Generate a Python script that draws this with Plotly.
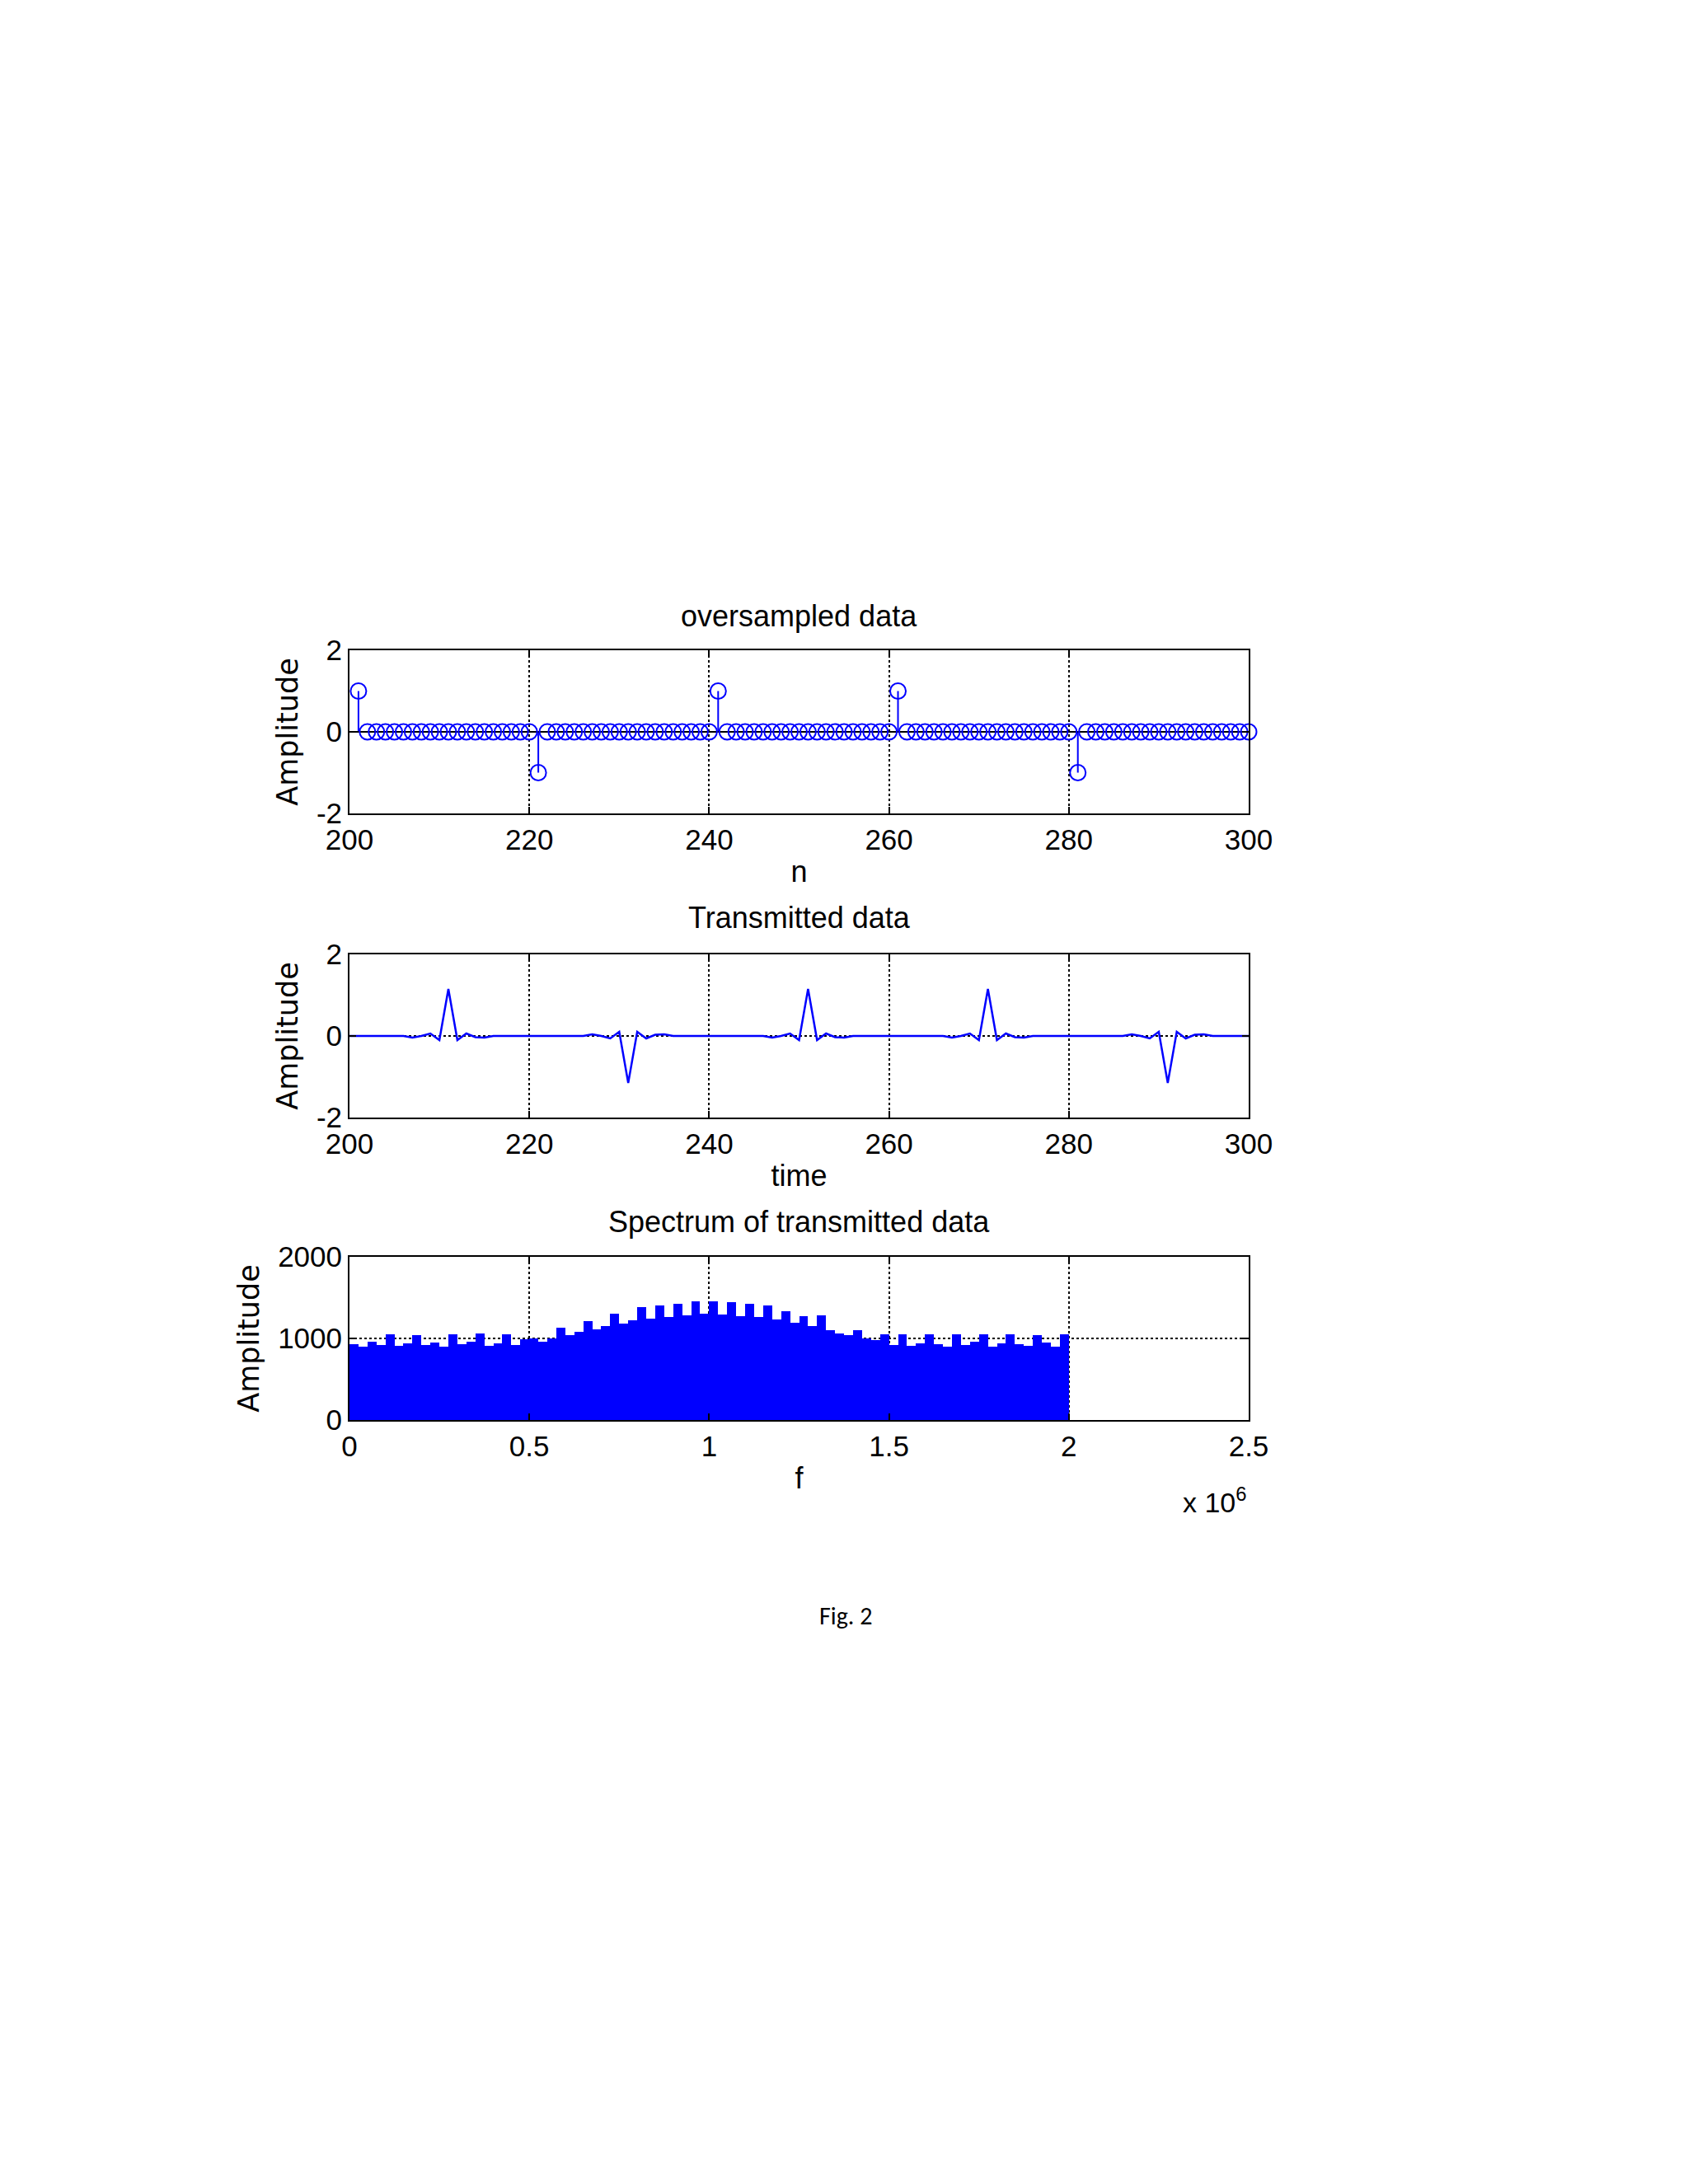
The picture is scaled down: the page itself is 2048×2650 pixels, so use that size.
import plotly.graph_objects as go

# oversampled data (stem), n = 201..300
n_vals = list(range(201, 301))
symbols = {201: 1, 221: -1, 241: 1, 261: 1, 281: -1}
over_vals = [symbols.get(n, 0) for n in n_vals]

# transmitted data, t = 200..300
t_vals = list(range(200, 301))
tx_vals = [0, 0, 0, 0, 0, 0, 0, -0.04, 0, 0.06,
           -0.1, 1.15, -0.1, 0.06, -0.03, -0.04, 0, 0, 0, 0,
           0, 0, 0, 0, 0, 0, 0, 0.04, 0, -0.06,
           0.1, -1.15, 0.1, -0.06, 0.03, 0.04, 0, 0, 0, 0,
           0, 0, 0, 0, 0, 0, 0, -0.04, 0, 0.06,
           -0.1, 1.15, -0.1, 0.06, -0.03, -0.04, 0, 0, 0, 0,
           0, 0, 0, 0, 0, 0, 0, -0.04, 0, 0.06,
           -0.1, 1.15, -0.1, 0.06, -0.03, -0.04, 0, 0, 0, 0,
           0, 0, 0, 0, 0, 0, 0, 0.04, 0, -0.06,
           0.1, -1.15, 0.1, -0.06, 0.03, 0.04, 0, 0, 0, 0,
           0]

# spectrum, bins of 25 kHz from 0 to 2 MHz
spec_f = [12500 + 25000 * i for i in range(80)]
spec_amp = [930, 900, 960, 920, 1050, 910, 940, 1040, 920, 950, 900, 1050, 930, 960, 1060, 910, 940, 1050, 920, 990,
            1000, 960, 1000, 1130, 1040, 1080, 1210, 1110,
            1150, 1300, 1180, 1220, 1380, 1240, 1400, 1260,
            1420, 1280, 1450, 1300, 1450, 1290, 1440, 1270,
            1420, 1260, 1400, 1230, 1330, 1190, 1270, 1150,
            1280, 1100, 1060, 1040, 1100, 1000, 980, 1050,
            920, 1050, 910, 940, 1050, 930, 900, 1050, 920, 960, 1050, 900, 940, 1050, 930, 910, 1040, 950, 900, 1050]

BLUE = "#0000ff"
FONT = "Liberation Sans Narrow, Arial Narrow, Liberation Sans, sans-serif"

fig = go.Figure()

# stems
sx, sy = [], []
for n, v in zip(n_vals, over_vals):
    sx += [n, n, None]
    sy += [0, v, None]
fig.add_trace(go.Scatter(x=sx, y=sy, mode="lines", line=dict(color=BLUE, width=2),
                         xaxis="x", yaxis="y", showlegend=False))
fig.add_trace(go.Scatter(x=[200, 300], y=[0, 0], mode="lines", line=dict(color="black", width=2),
                         xaxis="x", yaxis="y", showlegend=False))
fig.add_trace(go.Scatter(x=n_vals, y=over_vals, mode="markers",
                         marker=dict(symbol="circle-open", size=19, color=BLUE, line=dict(width=2)),
                         xaxis="x", yaxis="y", showlegend=False, cliponaxis=False))

fig.add_trace(go.Scatter(x=t_vals, y=tx_vals, mode="lines", line=dict(color=BLUE, width=2.5),
                         xaxis="x2", yaxis="y2", showlegend=False))

fig.add_trace(go.Bar(x=spec_f, y=spec_amp, width=25000, marker=dict(color=BLUE, line=dict(width=0)),
                     xaxis="x3", yaxis="y3", showlegend=False))

ax = dict(showline=True, mirror="ticks", linecolor="black", linewidth=2, ticks="inside",
          ticklen=8, tickwidth=2, tickcolor="black", showgrid=True, gridcolor="black",
          griddash="dot", gridwidth=1.5, zeroline=False, automargin=False, layer="above traces",
          tickfont=dict(family=FONT, size=35, color="black"))
ytitle = dict(text="Amplitude", font=dict(size=35, family="DejaVu Sans"), standoff=12)

H = 2650
xl = [416 / 2048, 1507 / 2048]
fig.update_layout(
    width=2048, height=H, paper_bgcolor="white", plot_bgcolor="white",
    margin=dict(l=0, r=0, t=0, b=0, autoexpand=False), bargap=0,
    font=dict(family=FONT, color="black"),
    xaxis=dict(ax, domain=xl, anchor="y", range=[200, 300], dtick=20,
               title=dict(text="n", font=dict(size=36), standoff=8)),
    yaxis=dict(ax, domain=[1 - 979 / H, 1 - 781 / H], anchor="x", range=[-2, 2],
               tickvals=[-2, 0, 2], ticktext=["-2", "0", "2"], title=ytitle),
    xaxis2=dict(ax, domain=xl, anchor="y2", range=[200, 300], dtick=20,
                title=dict(text="time", font=dict(size=36), standoff=8)),
    yaxis2=dict(ax, domain=[1 - 1348 / H, 1 - 1150 / H], anchor="x2", range=[-2, 2],
                tickvals=[-2, 0, 2], ticktext=["-2", "0", "2"], title=ytitle),
    xaxis3=dict(ax, domain=xl, anchor="y3", range=[0, 2.5e6], tickvals=[0, 5e5, 1e6, 1.5e6, 2e6, 2.5e6],
                ticktext=["0", "0.5", "1", "1.5", "2", "2.5"],
                title=dict(text="f", font=dict(size=36), standoff=8)),
    yaxis3=dict(ax, domain=[1 - 1715 / H, 1 - 1517 / H], anchor="x3", range=[0, 2000], dtick=1000,
                title=ytitle),
)

titles = [("oversampled data", 740), ("Transmitted data", 1106), ("Spectrum of transmitted data", 1474)]
for txt, y in titles:
    fig.add_annotation(text=txt, x=(xl[0] + xl[1]) / 2, y=1 - y / H, xref="paper", yref="paper",
                       showarrow=False, font=dict(size=36, family=FONT), yanchor="middle")
fig.add_annotation(text="x 10<sup>6</sup>", x=xl[1], y=1 - 1812 / H, xref="paper", yref="paper",
                   showarrow=False, xanchor="right", yanchor="middle", font=dict(size=34, family=FONT))
fig.add_annotation(text="Fig. 2", x=1018 / 2048, y=1 - 1952 / H, xref="paper", yref="paper",
                   showarrow=False, yanchor="middle",
                   font=dict(size=30, family="Carlito, Liberation Sans, sans-serif"))

fig.write_html("out.html")
